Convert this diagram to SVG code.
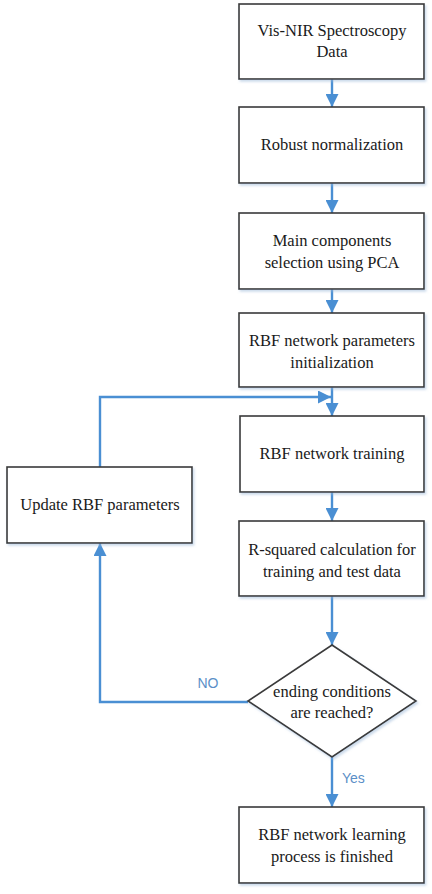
<svg xmlns="http://www.w3.org/2000/svg" width="432" height="894" viewBox="0 0 432 894">
<defs>
<marker id="ah" markerWidth="13" markerHeight="13" refX="10" refY="5" orient="auto" markerUnits="userSpaceOnUse" viewBox="0 0 10 10">
<path d="M0,0 L10,5 L0,10 z" fill="#4a8fd3"/>
</marker>
<filter id="sh" x="-5%" y="-5%" width="115%" height="120%">
<feDropShadow dx="1.5" dy="2" stdDeviation="1.2" flood-color="#9bb8d8" flood-opacity="0.5"/>
</filter>
</defs>
<style>
.box{fill:#fff;stroke:#3a3a3a;stroke-width:1.6;filter:url(#sh)}
.t{font-family:'Liberation Serif','DejaVu Serif',serif;font-size:16.5px;fill:#1a1a1a;text-anchor:middle}
.c{fill:none;stroke:#4a8fd3;stroke-width:2.4}
.lbl{font-family:'Liberation Sans',Arial,sans-serif;font-size:14px;fill:#5b8fc7}
</style>
<rect width="432" height="894" fill="#fff"/>
<g id="connectors">
<line class="c" x1="332" y1="79" x2="332" y2="107" marker-end="url(#ah)"/>
<line class="c" x1="332" y1="183" x2="332" y2="213" marker-end="url(#ah)"/>
<line class="c" x1="332" y1="289" x2="332" y2="313" marker-end="url(#ah)"/>
<line class="c" x1="332" y1="387" x2="332" y2="416" marker-end="url(#ah)"/>
<polyline class="c" points="100,467 100,397 331,397" marker-end="url(#ah)"/>
<line class="c" x1="332" y1="492" x2="332" y2="521" marker-end="url(#ah)"/>
<line class="c" x1="332" y1="596" x2="332" y2="645" marker-end="url(#ah)"/>
<polyline class="c" points="248,702 100,702 100,543" marker-end="url(#ah)"/>
<line class="c" x1="332" y1="757" x2="332" y2="807" marker-end="url(#ah)"/>
<text class="lbl" x="208" y="688" text-anchor="middle">NO</text>
<text class="lbl" x="342" y="783">Yes</text>
</g>
<g id="n1"><rect class="box" x="239" y="4" width="185" height="75"/>
<text class="t" x="332" y="36">Vis-NIR Spectroscopy</text><text class="t" x="332" y="57">Data</text></g>
<g id="n2"><rect class="box" x="239" y="107" width="185" height="76"/>
<text class="t" x="332" y="150">Robust normalization</text></g>
<g id="n3"><rect class="box" x="239" y="213" width="185" height="76"/>
<text class="t" x="332" y="246">Main components</text><text class="t" x="332" y="268">selection using PCA</text></g>
<g id="n4"><rect class="box" x="239" y="313" width="185" height="74"/>
<text class="t" x="332" y="346">RBF network parameters</text><text class="t" x="332" y="368">initialization</text></g>
<g id="n5"><rect class="box" x="240" y="416" width="184" height="76"/>
<text class="t" x="332" y="459">RBF network training</text></g>
<g id="n6"><rect class="box" x="239" y="521" width="185" height="75"/>
<text class="t" x="332" y="555">R-squared calculation for</text><text class="t" x="332" y="577">training and test data</text></g>
<g id="n7"><rect class="box" x="7" y="467" width="185" height="76"/>
<text class="t" x="100" y="510">Update RBF parameters</text></g>
<g id="n8"><polygon class="box" points="332,645 416,701 332,757 248,701"/>
<text class="t" x="332" y="697">ending conditions</text><text class="t" x="332" y="718">are reached?</text></g>
<g id="n9"><rect class="box" x="239" y="807" width="185" height="76"/>
<text class="t" x="332" y="840">RBF network learning</text><text class="t" x="332" y="862">process is finished</text></g>
</svg>
